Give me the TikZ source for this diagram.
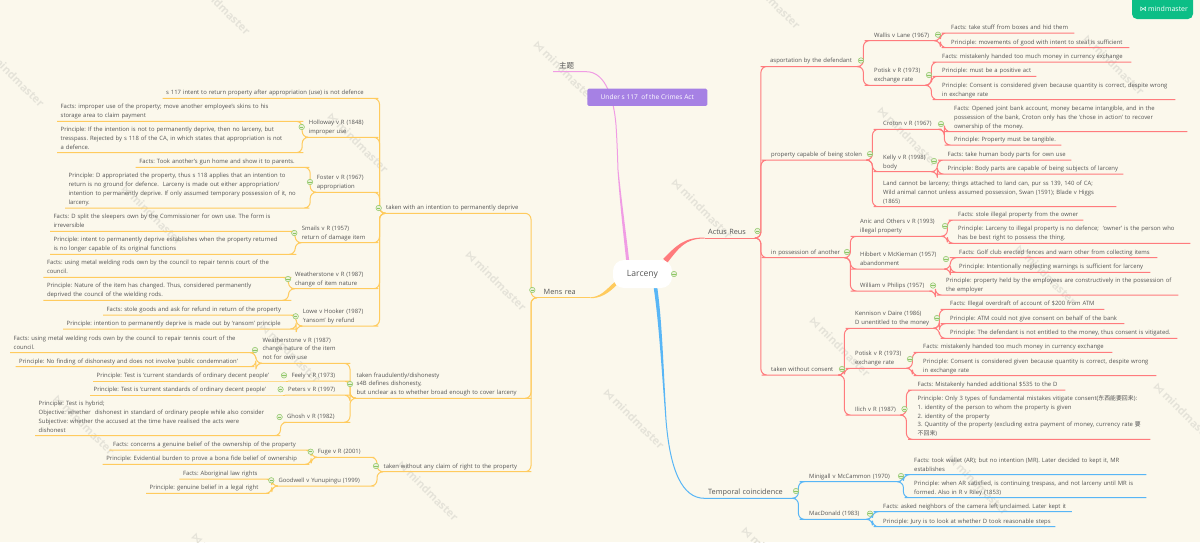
\documentclass[tikz,border=0pt]{standalone}
\usepackage{fontspec}
\setmainfont{Open Sans}
\newfontfamily\cjk{Noto Sans CJK SC}
\newfontfamily\logofont{DejaVu Sans}
\usetikzlibrary{calc}

\definecolor{paper}{HTML}{FBF8EC}
\definecolor{inkc}{HTML}{555555}
\definecolor{redc}{HTML}{FF7B7D}
\definecolor{yelc}{HTML}{FFCB5E}
\definecolor{bluc}{HTML}{58B6F6}
\definecolor{pinc}{HTML}{F09CE4}
\definecolor{purc}{HTML}{A681E4}
\definecolor{foldc}{HTML}{8CC665}
\definecolor{badgec}{HTML}{0CBE86}
\definecolor{wmarkc}{HTML}{E5E3D9}

\pgfdeclarelayer{lines}
\pgfsetlayers{lines,main}

\tikzset{
  note/.style={anchor=south west,inner xsep=3.5pt,inner ysep=2pt,align=left,text width=#1pt,
    execute at begin node={\rightskip=-12pt plus 1fil},
    execute at end node={\rule[-1.5pt]{0pt}{1.5pt}},
    font=\fontsize{5.9}{8.8}\selectfont,text=inkc},
  mainnote/.style={note=#1,font=\fontsize{7.3}{9}\selectfont},
  fold/.style={circle,draw=foldc,fill=foldc!15!paper,line width=.5pt,minimum size=5.5pt,inner sep=0pt,
    path picture={\draw[foldc,line width=.5pt] ([xshift=1pt]path picture bounding box.west) -- ([xshift=-1pt]path picture bounding box.east);}},
  wmark/.style={anchor=west,rotate=-45,text=wmarkc,font=\fontsize{11}{11}\selectfont\bfseries},
  rd/.style={draw=redc,line width=1pt,rounded corners=6pt},
  yl/.style={draw=yelc,line width=1pt,rounded corners=6pt},
  bl/.style={draw=bluc,line width=1pt,rounded corners=6pt},
  pk/.style={draw=pinc,line width=1pt},
  toright/.style={to path={let \p1=(\tikztostart),\p2=(\tikztotarget) in -- (\x1+3pt,\y1) -- (\x1+3pt,\y2) -- (\p2)}},
  toleft/.style={to path={let \p1=(\tikztostart),\p2=(\tikztotarget) in -- (\x1-3pt,\y1) -- (\x1-3pt,\y2) -- (\p2)}}
}
\newcommand{\wmtext}{{\logofont ⋈}\,mindmaster}

\begin{document}
\frenchspacing
\begin{tikzpicture}[x=1pt,y=-1pt]
\useasboundingbox (0,0) rectangle (1200,542);

%% paper and watermarks
\begin{pgfonlayer}{lines}
\fill[paper] (0,0) rectangle (1200,542);
\node[wmark] (w1) at (739,-32) {\wmtext};
\node[wmark] (w2) at (533,40) {\wmtext};
\node[wmark] (w3) at (327,112) {\wmtext};
\node[wmark] (w4) at (121,184) {\wmtext};
\node[wmark] (w5) at (1083,34) {\wmtext};
\node[wmark] (w6) at (877,106) {\wmtext};
\node[wmark] (w7) at (671,178) {\wmtext};
\node[wmark] (w8) at (465,250) {\wmtext};
\node[wmark] (w9) at (259,322) {\wmtext};
\node[wmark] (w10) at (53,394) {\wmtext};
\node[wmark] (w11) at (1015,244) {\wmtext};
\node[wmark] (w12) at (809,316) {\wmtext};
\node[wmark] (w13) at (603,388) {\wmtext};
\node[wmark] (w14) at (397,460) {\wmtext};
\node[wmark] (w15) at (191,532) {\wmtext};
\node[wmark] (w16) at (1153,382) {\wmtext};
\node[wmark] (w17) at (947,454) {\wmtext};
\node[wmark] (w18) at (741,526) {\wmtext};
\node[wmark] (w19) at (189,-26) {\wmtext};
\node[wmark] (w20) at (-17,46) {\wmtext};
\end{pgfonlayer}

%% centre and main branches
\node[fill=white,rounded corners=11pt,minimum width=59pt,minimum height=28pt,inner sep=0pt,text=inkc,font=\fontsize{8.6}{10}\selectfont] (root) at (642.5,274) {Larceny};
\node[mainnote=46] (actus) at (704.5,238) {Actus Reus};
\node[mainnote=49] (mens) at (534,297.7) {\hspace*{6pt}Mens rea};
\node[mainnote=83.5] (temporal) at (704.5,498.3) {Temporal coincidence};
\node[note=26,font=\fontsize{7.5}{9}\selectfont\cjk] (topic) at (553,71.7) {\hspace*{2.5pt}主题};
\coordinate (bluemid) at (666,420);
\coordinate (pinkmid) at (618,170);

%% right side, first level
\node[note=86.5] (asport) at (766.5,66.5) {asportation by the defendant};
\node[note=94.5] (stolen) at (767.5,160) {property capable of being stolen};
\node[note=72.5] (possess) at (767.5,257.7) {in possession of another};
\node[note=66.5] (consent) at (767.5,375) {taken without consent};

%% asportation
\node[note=59.5] (wallis) at (870.5,40.7) {Wallis v Lane (1967)};
\node[note=50.5] (potisk) at (870.5,85.3) {Potisk v R (1973)\\exchange rate};
\node[note=119.5] (wallisf) at (947.5,33) {Facts: take stuff from boxes and hid them};
\node[note=174.5] (wallisp) at (947.5,47.7) {Principle: movements of good with intent to steal is sufficient};
\node[note=185.5] (potiskf) at (938.5,62) {Facts: mistakenly handed too much money in currency exchange};
\node[note=90.5] (potiskp) at (938.5,76.3) {Principle: must be a positive act};
\node[note=229.5] (potiskc) at (938.5,99.7) {Principle: Consent is considered given because quantity is correct, despite wrong\\in exchange rate};

%% property
\node[note=54.5] (croton) at (879.5,129.3) {Croton v R (1967)};
\node[note=47.5] (kelly) at (879.5,171.7) {Kelly v R (1998)\\body};
\node[note=229.5] (land) at (879.5,206.7) {Land cannot be larceny; things attached to land can, pur ss 139, 140 of CA;\\Wild animal cannot unless assumed possession, Swan (1591); Blade v Higgs\\(1865)};
\node[note=229.5] (crotonf) at (950.5,131.7) {Facts: Opened joint bank account, money became intangible, and in the\\possession of the bank, Croton only has the `chose in action' to recover\\ownership of the money.};
\node[note=103.5] (crotonp) at (950.5,145) {Principle: Property must be tangible.};
\node[note=120] (kellyf) at (944,160) {Facts: take human body parts for own use};
\node[note=172] (kellyp) at (944,174) {Principle: Body parts are capable of being subjects of larceny};

%% possession
\node[note=80.5] (anic) at (856.5,236.3) {Anic and Others v R (1993)\\illegal property};
\node[note=83.5] (hibbert) at (856.5,269) {Hibbert v McKiernan (1957)\\abandonment};
\node[note=68.5] (william) at (856.5,291) {William v Philips (1957)};
\node[note=121.5] (anicf) at (954.5,220) {Facts: stole illegal property from the owner};
\node[note=228.5] (anicp) at (954.5,243.3) {Principle: Larceny to illegal property is no defence;~ `owner' is the person who\\has be best right to possess the thing.};
\node[note=194.5] (hibbertf) at (955.5,257.7) {Facts: Golf club erected fences and warn other from collecting items};
\node[note=187.5] (hibbertp) at (955.5,272.3) {Principle: Intentionally neglecting warnings is sufficient for larceny};
\node[note=228.5] (williamp) at (942.5,295) {Principle: property held by the employees are constructively in the possession of\\the employer};

%% consent
\node[note=77.5] (kennison) at (851.5,328.3) {Kennison v Daire (1986)\\D unentitled to the money};
\node[note=50.5] (potiskb) at (851.5,368.3) {Potisk v R (1973)\\exchange rate};
\node[note=44.5] (ilich) at (851.5,415) {Ilich v R (1987)};
\node[note=150.5] (kennisonf) at (946.5,309.3) {Facts: Illegal overdraft of account of \$200 from ATM};
\node[note=170.5] (kennisonp) at (946.5,323.7) {Principle: ATM could not give consent on behalf of the bank};
\node[note=223.5] (kennisond) at (946.5,338.3) {Principle: The defendant is not entitled to the money, thus consent is vitigated.};
\node[note=185.5] (potiskbf) at (919.5,352.3) {Facts: mistakenly handed too much money in currency exchange};
\node[note=229.5] (potiskbp) at (919.5,375.7) {Principle: Consent is considered given because quantity is correct, despite wrong\\in exchange rate};
\node[note=144] (ilichf) at (914,390) {Facts: Mistakenly handed additional \$535 to the D};
\node[note=229] (ilichp) at (914,439.3) {Principle: Only 3 types of fundamental mistakes vitigate consent({\cjk 东西能要回来}):\\1. identity of the person to whom the property is given\\2. identity of the property\\3. Quantity of the property (excluding extra payment of money, currency rate {\cjk 要}\\{\cjk 不回来})};

%% temporal
\node[note=87.5] (minigall) at (805.5,481.7) {Minigall v McCammon (1970)};
\node[note=56.5] (macdonald) at (805.5,519.3) {MacDonald (1983)};
\node[note=228.5] (minigallf) at (910.5,474.7) {Facts: took wallet (AR); but no intention (MR). Later decided to kept it, MR\\establishes};
\node[note=228.5] (minigallp) at (910.5,497.7) {Principle: when AR satisfied, is continuing trespass, and not larceny until MR is\\formed. Also in R v Riley (1853)};
\node[note=185] (macdonaldf) at (879.5,511.7) {Facts: asked neighbors of the camera left unclaimed. Later kept it};
\node[note=168.5] (macdonaldp) at (879.5,526.7) {Principle: Jury is to look at whether D took reasonable steps};

%% left side, first level
\node[note=130.5] (intent) at (382.5,213.3) {taken with an intention to permanently deprive};
\node[note=165] (fraud) at (353,398.3) {taken fraudulently/dishonesty\\s4B defines dishonesty,\\but unclear as to whether broad enough to cover larceny};
\node[note=138] (claim) at (380,471.7) {taken without any claim of right to the property};

%% intention
\node[note=202.5] (appropr) at (162.5,98.3) {s 117 intent to return property after appropriation (use) is not defence};
\node[note=59.8] (holloway) at (305.2,137.3) {Holloway v R (1848)\\improper use};
\node[note=51.8] (foster) at (313.2,192.3) {Foster v R (1967)\\appropriation};
\node[note=66.8] (smails) at (298.2,242.7) {Smails v R (1957)\\return of damage item};
\node[note=73.5] (weather) at (291.5,288.7) {Weatherstone v R (1987)\\change of item nature};
\node[note=65.8] (lowe) at (299.2,326) {Lowe v Hooker (1987)\\`ransom' by refund};
\node[note=233] (hollowayf) at (57,121.3) {Facts: improper use of the property; move another employee's skins to his\\storage area to claim payment};
\node[note=233] (hollowayp) at (57,152.7) {Principle: If the intention is not to permanently deprive, then no larceny, but\\tresspass. Rejected by s 118 of the CA, in which states that appropriation is not\\a defence.};
\node[note=160.3] (fosterf) at (135.7,167.3) {Facts: Took another's gun home and show it to parents.};
\node[note=231] (fosterp) at (65,208) {Principle: D appropriated the property, thus s 118 applies that an intention to\\return is no ground for defence.~ Larceny is made out either appropriation/\\intention to permanently deprive. If only assumed temporary possession of it, no\\larceny.};
\node[note=233] (smailsf) at (50,231.3) {Facts: D split the sleepers own by the Commissioner for own use. The form is\\irreversible};
\node[note=233] (smailsp) at (50,254.3) {Principle: intent to permanently deprive establishes when the property returned\\is no longer capable of its original functions};
\node[note=234.7] (weatherf) at (43.3,277.3) {Facts: using metal welding rods own by the council to repair tennis court of the\\council.};
\node[note=234.7] (weatherp) at (43.3,300.3) {Principle: Nature of the item has changed. Thus, considered permanently\\deprived the council of the wielding rods.};
\node[note=180] (lowef) at (103,315) {Facts: stole goods and ask for refund in return of the property};
\node[note=220] (lowep) at (63,329) {Principle: intention to permanently deprive is made out by `ransom' principle};

%% dishonesty
\node[note=78.1] (weatherb) at (258.9,363.3) {Weatherstone v R (1987)\\change nature of the item\\not for own use};
\node[note=49.2] (feely) at (287.8,381) {Feely v R (1973)};
\node[note=52.5] (peters) at (284.5,395) {Peters v R (1997)};
\node[note=53.5] (ghosh) at (283.5,422.3) {Ghosh v R (1982)};
\node[note=231] (weatherbf) at (10,352.7) {Facts: using metal welding rods own by the council to repair tennis court of the\\council.};
\node[note=225.5] (weatherbp) at (15.5,366.7) {Principle: No finding of dishonesty and does not involve `public condemnation'};
\node[note=178] (feelyp) at (93,381) {Principle: Test is `current standards of ordinary decent people'};
\node[note=178] (petersp) at (90,395) {Principle: Test is `current standards of ordinary decent people'};
\node[note=232] (ghoshp) at (35,435.7) {Principle: Test is hybrid;\\Objective: whether~ dishonest in standard of ordinary people while also consider\\Subjective: whether the accused at the time have realised the acts were\\dishonest};

%% claim of right
\node[note=46.8] (fuge) at (314.2,457.3) {Fuge v R (2001)};
\node[note=86.2] (goodwell) at (274.8,486) {Goodwell v Yunupingu (1999)};
\node[note=186.7] (fugef) at (109.3,450) {Facts: concerns a genuine belief of the ownership of the property};
\node[note=193.3] (fugep) at (102.7,464.3) {Principle: Evidential burden to prove a bona fide belief of ownership};
\node[note=76.7] (goodwellf) at (179.3,479) {Facts: Aboriginal law rights};
\node[note=110] (goodwellp) at (146,493.3) {Principle: genuine belief in a legal right};

\begin{pgfonlayer}{lines}
%% connectors from the centre
\fill[redc] ($(root.32)+(-2,-1)$) .. controls (677,245) and (684,237.5) .. ($(actus.south west)+(0,-.5)$) -- ($(actus.south west)+(0,.5)$) .. controls (685,238.5) and (679,248) .. ($(root.32)+(2,3)$) -- cycle;
\draw[rd] (actus.south west) -- (actus.south east);
\fill[yelc] ($(root.200)+(2,-3)$) .. controls (606,290) and (600,297.2) .. ($(mens.south east)+(0,-.5)$) -- ($(mens.south east)+(0,.5)$) .. controls (600,298.2) and (608,294) .. ($(root.200)+(4,0)$) -- cycle;
\draw[yl] (mens.south east) -- (mens.south west);
\fill[bluc] ($(root.-48)+(-1.8,-2)$) .. controls (658.5,320) and (661,360) .. ($(bluemid)+(-.5,0)$) -- ($(bluemid)+(.5,0)$) .. controls (663,360) and (662,320) .. ($(root.-48)+(1.8,-2)$) -- cycle;
\draw[bl,rounded corners=0pt] (bluemid) .. controls (670,470) and (682,498.3) .. (temporal.south west) -- (temporal.south east);
\draw[pk] (topic.south west) -- (topic.south east) .. controls (606,71.7) and (614,100) .. (616,125) .. controls (617,140) and (617.5,155) .. (pinkmid);
\fill[pinc] ($(root.136)+(-1.5,2)$) .. controls (624,240) and (620,205) .. ($(pinkmid)+(-.5,0)$) -- ($(pinkmid)+(.5,0)$) .. controls (622,205) and (627,240) .. ($(root.136)+(1.5,2)$) -- cycle;

%% right connectors
\draw[rd] (actus.south east) to[toright] (asport.south west) -- (asport.south east);
\draw[rd] (actus.south east) to[toright] (stolen.south west) -- (stolen.south east);
\draw[rd] (actus.south east) to[toright] (possess.south west) -- (possess.south east);
\draw[rd] (actus.south east) to[toright] (consent.south west) -- (consent.south east);
\draw[rd] (asport.south east) to[toright] (wallis.south west) -- (wallis.south east);
\draw[rd] (asport.south east) to[toright] (potisk.south west) -- (potisk.south east);
\draw[rd] (wallis.south east) to[toright] (wallisf.south west) -- (wallisf.south east);
\draw[rd] (wallis.south east) to[toright] (wallisp.south west) -- (wallisp.south east);
\draw[rd] (potisk.south east) to[toright] (potiskf.south west) -- (potiskf.south east);
\draw[rd] (potisk.south east) to[toright] (potiskp.south west) -- (potiskp.south east);
\draw[rd] (potisk.south east) to[toright] (potiskc.south west) -- (potiskc.south east);
\draw[rd] (stolen.south east) to[toright] (croton.south west) -- (croton.south east);
\draw[rd] (stolen.south east) to[toright] (kelly.south west) -- (kelly.south east);
\draw[rd] (stolen.south east) to[toright] (land.south west) -- (land.south east);
\draw[rd] (croton.south east) to[toright] (crotonf.south west) -- (crotonf.south east);
\draw[rd] (croton.south east) to[toright] (crotonp.south west) -- (crotonp.south east);
\draw[rd] (kelly.south east) to[toright] (kellyf.south west) -- (kellyf.south east);
\draw[rd] (kelly.south east) to[toright] (kellyp.south west) -- (kellyp.south east);
\draw[rd] (possess.south east) to[toright] (anic.south west) -- (anic.south east);
\draw[rd] (possess.south east) to[toright] (hibbert.south west) -- (hibbert.south east);
\draw[rd] (possess.south east) to[toright] (william.south west) -- (william.south east);
\draw[rd] (anic.south east) to[toright] (anicf.south west) -- (anicf.south east);
\draw[rd] (anic.south east) to[toright] (anicp.south west) -- (anicp.south east);
\draw[rd] (hibbert.south east) to[toright] (hibbertf.south west) -- (hibbertf.south east);
\draw[rd] (hibbert.south east) to[toright] (hibbertp.south west) -- (hibbertp.south east);
\draw[rd] (william.south east) to[toright] (williamp.south west) -- (williamp.south east);
\draw[rd] (consent.south east) to[toright] (kennison.south west) -- (kennison.south east);
\draw[rd] (consent.south east) to[toright] (potiskb.south west) -- (potiskb.south east);
\draw[rd] (consent.south east) to[toright] (ilich.south west) -- (ilich.south east);
\draw[rd] (kennison.south east) to[toright] (kennisonf.south west) -- (kennisonf.south east);
\draw[rd] (kennison.south east) to[toright] (kennisonp.south west) -- (kennisonp.south east);
\draw[rd] (kennison.south east) to[toright] (kennisond.south west) -- (kennisond.south east);
\draw[rd] (potiskb.south east) to[toright] (potiskbf.south west) -- (potiskbf.south east);
\draw[rd] (potiskb.south east) to[toright] (potiskbp.south west) -- (potiskbp.south east);
\draw[rd] (ilich.south east) to[toright] (ilichf.south west) -- (ilichf.south east);
\draw[rd] (ilich.south east) to[toright] (ilichp.south west) -- (ilichp.south east);
\draw[bl] (temporal.south east) to[toright] (minigall.south west) -- (minigall.south east);
\draw[bl] (temporal.south east) to[toright] (macdonald.south west) -- (macdonald.south east);
\draw[bl] (minigall.south east) to[toright] (minigallf.south west) -- (minigallf.south east);
\draw[bl] (minigall.south east) to[toright] (minigallp.south west) -- (minigallp.south east);
\draw[bl] (macdonald.south east) to[toright] (macdonaldf.south west) -- (macdonaldf.south east);
\draw[bl] (macdonald.south east) to[toright] (macdonaldp.south west) -- (macdonaldp.south east);

%% left connectors
\draw[yl] (mens.south west) to[toleft] (intent.south east) -- (intent.south west);
\draw[yl] (mens.south west) to[toleft] (fraud.south east) -- (fraud.south west);
\draw[yl] (mens.south west) to[toleft] (claim.south east) -- (claim.south west);
\draw[yl] (intent.south west) to[toleft] (appropr.south east) -- (appropr.south west);
\draw[yl] (intent.south west) to[toleft] (holloway.south east) -- (holloway.south west);
\draw[yl] (intent.south west) to[toleft] (foster.south east) -- (foster.south west);
\draw[yl] (intent.south west) to[toleft] (smails.south east) -- (smails.south west);
\draw[yl] (intent.south west) to[toleft] (weather.south east) -- (weather.south west);
\draw[yl] (intent.south west) to[toleft] (lowe.south east) -- (lowe.south west);
\draw[yl] (holloway.south west) to[toleft] (hollowayf.south east) -- (hollowayf.south west);
\draw[yl] (holloway.south west) to[toleft] (hollowayp.south east) -- (hollowayp.south west);
\draw[yl] (foster.south west) to[toleft] (fosterf.south east) -- (fosterf.south west);
\draw[yl] (foster.south west) to[toleft] (fosterp.south east) -- (fosterp.south west);
\draw[yl] (smails.south west) to[toleft] (smailsf.south east) -- (smailsf.south west);
\draw[yl] (smails.south west) to[toleft] (smailsp.south east) -- (smailsp.south west);
\draw[yl] (weather.south west) to[toleft] (weatherf.south east) -- (weatherf.south west);
\draw[yl] (weather.south west) to[toleft] (weatherp.south east) -- (weatherp.south west);
\draw[yl] (lowe.south west) to[toleft] (lowef.south east) -- (lowef.south west);
\draw[yl] (lowe.south west) to[toleft] (lowep.south east) -- (lowep.south west);
\draw[yl] (fraud.south west) to[toleft] (weatherb.south east) -- (weatherb.south west);
\draw[yl] (fraud.south west) to[toleft] (feely.south east) -- (feely.south west);
\draw[yl] (fraud.south west) to[toleft] (peters.south east) -- (peters.south west);
\draw[yl] (fraud.south west) to[toleft] (ghosh.south east) -- (ghosh.south west);
\draw[yl] (weatherb.south west) to[toleft] (weatherbf.south east) -- (weatherbf.south west);
\draw[yl] (weatherb.south west) to[toleft] (weatherbp.south east) -- (weatherbp.south west);
\draw[yl] (feely.south west) -- (feelyp.south east) -- (feelyp.south west);
\draw[yl] (peters.south west) -- (petersp.south east) -- (petersp.south west);
\draw[yl] (ghosh.south west) to[toleft] (ghoshp.south east) -- (ghoshp.south west);
\draw[yl] (claim.south west) to[toleft] (fuge.south east) -- (fuge.south west);
\draw[yl] (claim.south west) to[toleft] (goodwell.south east) -- (goodwell.south west);
\draw[yl] (fuge.south west) to[toleft] (fugef.south east) -- (fugef.south west);
\draw[yl] (fuge.south west) to[toleft] (fugep.south east) -- (fugep.south west);
\draw[yl] (goodwell.south west) to[toleft] (goodwellf.south east) -- (goodwellf.south west);
\draw[yl] (goodwell.south west) to[toleft] (goodwellp.south east) -- (goodwellp.south west);
\end{pgfonlayer}

%% label box and badge
\node[fill=purc,rounded corners=1.5pt,minimum width=120pt,minimum height=17.3pt,inner sep=0pt,text=white,font=\fontsize{6.6}{8}\selectfont] (act) at (647.3,97.3) {Under s 117~ of the Crimes Act};
\fill[badgec,rounded corners=5pt] (1132,-8) rectangle (1193,19);
\node[text=white,inner sep=0pt,font=\fontsize{7}{8}\selectfont] (badge) at (1164,9) {{\logofont ⋈}\,mindmaster};

%% fold marks
\node[fold] (f1) at (674,274) {};
\node[fold] (f2) at (757.5,231) {};
\node[fold] (f3) at (532.3,290) {};
\node[fold] (f4) at (796,491) {};
\node[fold] (f5) at (861,60.5) {};
\node[fold] (f6) at (870,154) {};
\node[fold] (f7) at (847,252) {};
\node[fold] (f8) at (842,369) {};
\node[fold] (f9) at (938,34.7) {};
\node[fold] (f10) at (929,75) {};
\node[fold] (f11) at (941,124) {};
\node[fold] (f12) at (934,161) {};
\node[fold] (f13) at (945,226) {};
\node[fold] (f14) at (946,259) {};
\node[fold] (f15) at (933,285.5) {};
\node[fold] (f16) at (937,318) {};
\node[fold] (f17) at (910,359) {};
\node[fold] (f18) at (904.5,409) {};
\node[fold] (f19) at (901,476) {};
\node[fold] (f20) at (870,513.7) {};
\node[fold] (f21) at (378.7,208) {};
\node[fold] (f22) at (350,384) {};
\node[fold] (f23) at (376,466) {};
\node[fold] (f24) at (301.7,127) {};
\node[fold] (f25) at (310,182) {};
\node[fold] (f26) at (294.3,233) {};
\node[fold] (f27) at (288,279) {};
\node[fold] (f28) at (295.7,316.3) {};
\node[fold] (f29) at (255,350) {};
\node[fold] (f30) at (284,375.3) {};
\node[fold] (f31) at (280.6,389.3) {};
\node[fold] (f32) at (279.6,417) {};
\node[fold] (f33) at (310.7,451.7) {};
\node[fold] (f34) at (271.3,480.3) {};
\end{tikzpicture}
\end{document}
